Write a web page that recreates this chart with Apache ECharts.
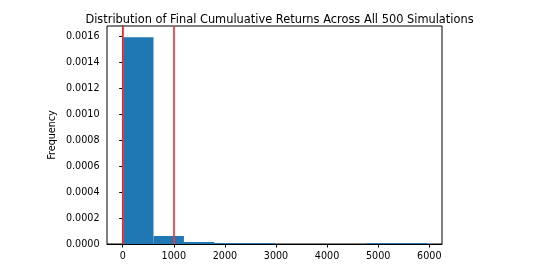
<!DOCTYPE html>
<html><head><meta charset="utf-8">
<script src="https://cdn.jsdelivr.net/npm/echarts@6/dist/echarts.min.js"></script>
<style>html,body{margin:0;padding:0;background:#fff}#c{width:551px;height:271px}</style>
</head><body><div id="c"></div>
<script>
const binEdges = [8, 603, 1198, 1793, 2388, 2983, 3578, 4173, 4768, 5363, 5958];
const densities = [0.001590, 0.0000615, 0.0000154, 0.0000070, 0.0000070, 0, 0, 0, 0.0000070, 0.0000070];
const ciLines = [3, 1000];
const xTicks = [0, 1000, 2000, 3000, 4000, 5000, 6000];
const yTicks = [0, 0.0002, 0.0004, 0.0006, 0.0008, 0.0010, 0.0012, 0.0014, 0.0016];
const titleText = 'Distribution of Final Cumuluative Returns Across All 500 Simulations';

const binData = densities.map((d, i) => [binEdges[i], binEdges[i + 1], d]);
const font = 'DejaVu Sans';
const chart = echarts.init(document.getElementById('c'), null, {renderer: 'canvas'});
chart.setOption({
  animation: false,
  title: {text: titleText, left: 274.5, textAlign: 'center', top: 10,
    textStyle: {fontFamily: font, fontSize: 11.4, fontWeight: 'normal', color: '#000'}},
  grid: {left: 107, right: 109, top: 26, bottom: 27, show: true, borderColor: '#000', borderWidth: 1, backgroundColor: 'transparent'},
  xAxis: {type: 'value', min: -307, max: 6249,
    axisLine: {show: true, lineStyle: {color: '#000', width: 1}},
    axisTick: {show: true, length: 3.5, lineStyle: {color: '#000'}, customValues: xTicks},
    axisLabel: {customValues: xTicks, fontFamily: font, fontSize: 9.6, color: '#000', margin: 7,
      formatter: v => String(v)},
    splitLine: {show: false}},
  yAxis: {type: 'value', min: 0, max: 0.001677,
    name: 'Frequency', nameLocation: 'middle', nameGap: 50, nameMoveOverlap: false,
    nameTextStyle: {fontFamily: font, fontSize: 9.6, color: '#000'},
    axisLine: {show: true, lineStyle: {color: '#000', width: 1}},
    axisTick: {show: true, length: 3.5, lineStyle: {color: '#000'}, customValues: yTicks},
    axisLabel: {customValues: yTicks, fontFamily: font, fontSize: 9.6, color: '#000', margin: 7.5,
      formatter: v => v.toFixed(4)},
    splitLine: {show: false}},
  series: [{
    type: 'custom',
    data: binData,
    encode: {x: [0, 1], y: 2},
    renderItem: function (params, api) {
      const p0 = api.coord([api.value(0), api.value(2)]);
      const p1 = api.coord([api.value(1), 0]);
      return {type: 'rect', shape: {x: p0[0], y: p0[1], width: p1[0] - p0[0], height: p1[1] - p0[1]},
        style: {fill: '#1f77b4'}};
    },
    markLine: {silent: true, symbol: 'none', label: {show: false},
      lineStyle: {color: '#f33', width: 1.7, type: 'solid'},
      data: ciLines.map(v => ({xAxis: v}))}
  }]
});
</script></body></html>
